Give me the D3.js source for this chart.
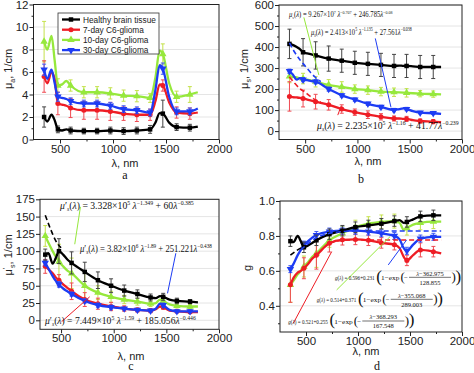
<!DOCTYPE html>
<html>
<head>
<style>
    body { margin: 0; background: #fff; }
    svg { display: block; font-family: "Liberation Sans", Arial, sans-serif; }
    .grid line { stroke: #dedede; stroke-width: 0.8; }
    .eq { font-family: "Liberation Serif", "DejaVu Serif", serif; fill: #111; }
    .tick text { fill: #222; }
</style>
</head>
<body>
<svg width="474" height="373"></svg>
<script src="https://d3js.org/d3.v7.min.js"></script>
<script>
// wavelength grid of the smoothed curves (nm) and where the markers sit
var waves = [350, 380, 420, 450, 480, 520, 560, 600, 725, 850, 975, 1100, 1225, 1350, 1400, 1440, 1470, 1530, 1600, 1725, 1800];
var markWaves = [350, 480, 600, 725, 850, 975, 1100, 1225, 1350, 1470, 1600, 1725];
var seriesNames = ["Healthy brain tissue", "7-day C6-glioma", "10-day C6-glioma", "30-day C6-glioma"];
var colors = ["#000000", "#ee1d25", "#96e83c", "#1d3cf4"];
var errColors = ["#444444", "#ef4a52", "#c4e14a", "#3d58f6"];

// a) absorption coefficient mu_a, 1/cm
var muA = [
    [2.0, 1.6, 2.2, 1.7, 0.9, 0.8, 0.9, 0.8, 0.75, 0.75, 0.8, 0.75, 0.8, 0.9, 1.5, 2.35, 2.3, 1.5, 1.1, 1.05, 1.15],
    [5.6, 5.0, 6.0, 5.3, 3.2, 3.1, 3.0, 2.8, 2.6, 2.6, 2.5, 2.3, 2.2, 2.2, 3.4, 4.9, 4.8, 3.3, 2.4, 2.3, 2.4],
    [8.7, 8.0, 9.2, 7.0, 4.8, 4.9, 5.2, 4.8, 4.2, 4.2, 4.1, 3.9, 3.85, 3.7, 5.5, 7.9, 7.6, 5.0, 3.8, 4.0, 4.2],
    [6.2, 5.4, 6.2, 5.0, 3.8, 3.7, 3.6, 3.4, 3.2, 3.2, 3.0, 2.7, 2.6, 2.4, 4.4, 6.6, 6.3, 3.8, 2.5, 2.5, 2.75]
];
var muAErr = [
    [0.9, 0.3, 0.3, 0.25, 0.25, 0.3, 0.3, 0.3, 0.35, 1.2, 0.3, 0.3],
    [1.4, 1.0, 0.85, 0.8, 0.8, 0.8, 0.6, 0.6, 0.5, 0.5, 0.5, 0.5],
    [1.8, 0.6, 0.5, 0.5, 0.5, 0.5, 0.5, 0.5, 0.4, 0.9, 0.5, 0.7],
    [0.5, 0.4, 0.3, 0.3, 0.3, 0.3, 0.3, 0.3, 0.3, 0.5, 0.3, 0.3]
];

// b) scattering coefficient mu_s, 1/cm
var muS = [
    [415, 410, 400, 390, 375, 370, 365, 360, 345, 335, 325, 320, 315, 310, 312, 310, 310, 308, 305, 305, 305],
    [165, 162, 160, 158, 155, 150, 145, 140, 125, 105, 90, 78, 68, 60, 60, 58, 58, 52, 48, 45, 42],
    [260, 258, 255, 252, 250, 245, 240, 235, 220, 210, 200, 195, 188, 185, 184, 183, 182, 180, 178, 176, 175],
    [285, 270, 245, 252, 245, 242, 238, 235, 200, 170, 150, 130, 115, 100, 105, 108, 105, 95, 88, 85, 82]
];
var muSErr = [
    [70, 65, 65, 60, 55, 55, 55, 55, 55, 55, 55, 55],
    [70, 40, 35, 25, 20, 15, 18, 15, 12, 12, 10, 10],
    [30, 25, 25, 25, 25, 20, 20, 20, 20, 20, 15, 15],
    [10, 10, 10, 10, 8, 8, 8, 8, 8, 8, 6, 6]
];
var fitSWaves = [350, 400, 450, 500, 550, 600, 650];
var fitSRed = [258, 228, 202, 185, 165, 148, 138];
var fitSBlue = [420, 375, 340, 310, 280, 255, 235];

// c) reduced scattering coefficient mu_s', 1/cm
var muSr = [
    [95, 97, 82, 90, 100, 95, 88, 83, 70, 58, 50, 43, 38, 33, 32, 35, 34, 30, 28, 27, 26],
    [78, 74, 68, 62, 58, 52, 47, 42, 30, 24, 20, 17, 15, 14, 16, 20, 19, 14, 13, 12, 12],
    [122, 112, 100, 92, 85, 78, 72, 68, 50, 40, 34, 30, 27, 24, 25, 30, 28, 23, 21, 20, 20],
    [83, 75, 64, 57, 52, 46, 42, 38, 28, 22, 19, 17, 15, 14, 17, 24, 22, 15, 13, 13, 13]
];
var muSrErr = [
    [8, 18, 16, 14, 12, 10, 8, 6, 5, 5, 4, 3],
    [10, 8, 12, 10, 8, 6, 4, 3, 3, 3, 2, 2],
    [15, 25, 22, 20, 10, 8, 6, 5, 4, 5, 3, 3],
    [4, 4, 3, 3, 3, 3, 2, 2, 2, 3, 2, 2]
];
var fitSrWaves = [350, 400, 450, 500];
var fitSrBlack = [152, 132, 115, 105];

// d) anisotropy factor g
var gFac = [
    [0.77, 0.765, 0.80, 0.77, 0.735, 0.745, 0.76, 0.775, 0.81, 0.83, 0.85, 0.86, 0.87, 0.885, 0.89, 0.875, 0.88, 0.895, 0.912, 0.918, 0.918],
    [0.52, 0.56, 0.59, 0.60, 0.615, 0.64, 0.67, 0.69, 0.758, 0.778, 0.78, 0.775, 0.76, 0.75, 0.73, 0.68, 0.66, 0.69, 0.72, 0.71, 0.70],
    [0.52, 0.545, 0.58, 0.60, 0.625, 0.65, 0.68, 0.70, 0.775, 0.815, 0.85, 0.87, 0.88, 0.885, 0.875, 0.835, 0.845, 0.865, 0.875, 0.882, 0.882],
    [0.61, 0.64, 0.69, 0.72, 0.75, 0.77, 0.79, 0.805, 0.825, 0.83, 0.83, 0.825, 0.815, 0.80, 0.78, 0.73, 0.715, 0.75, 0.785, 0.795, 0.795]
];
var gErr = [
    [0.03, 0.03, 0.03, 0.03, 0.03, 0.03, 0.03, 0.03, 0.03, 0.03, 0.03, 0.03],
    [0.10, 0.06, 0.08, 0.05, 0.03, 0.03, 0.03, 0.03, 0.03, 0.03, 0.04, 0.03],
    [0.10, 0.06, 0.08, 0.04, 0.04, 0.04, 0.04, 0.04, 0.04, 0.04, 0.04, 0.04],
    [0.02, 0.02, 0.02, 0.02, 0.02, 0.02, 0.02, 0.02, 0.02, 0.02, 0.02, 0.02]
];
var fitGBlackWaves = [350, 420, 480];
var fitGBlack = [0.69, 0.72, 0.74];
var fitGBlueWaves = [450, 600, 725, 850, 1000, 1800];
var fitGBlue = [0.72, 0.79, 0.815, 0.825, 0.828, 0.828];
var fitGRedWaves = [725, 850, 1000, 1800];
var fitGRed = [0.76, 0.775, 0.777, 0.777];

var svg = d3.select("svg");
var shapes = [d3.symbolSquare, d3.symbolCircle, d3.symbolTriangle, d3.symbolTriangle];
var shapeSize = [20, 20, 24, 24];
var shapeRot = [0, 0, 0, 180];
var drawOrder = [2, 1, 3, 0];

var panels = [
    { name: "a", vals: muA, errs: muAErr, xd: [250, 2000], xr: [33.5, 219], yd: [0, 12], yr: [139.5, 4.5],
      yTicks: [0, 2, 4, 6, 8, 10, 12], yMinor: [1, 3, 5, 7, 9, 11], fmt: d3.format("d"),
      fits: [],
      leaders: [] },
    { name: "b", vals: muS, errs: muSErr, xd: [250, 2000], xr: [279, 462], yd: [-40, 600], yr: [139.5, 5],
      yTicks: [0, 100, 200, 300, 400, 500, 600], yMinor: [50, 150, 250, 350, 450, 550], fmt: d3.format("d"),
      fits: [{ c: 1, w: fitSWaves, v: fitSRed }, { c: 3, w: fitSWaves, v: fitSBlue }],
      leaders: [{ c: 2, x1: 488, y1: 541, x2: 631, y2: 267 },
                { c: 3, x1: 1171, y1: 441, x2: 1321, y2: 113 },
                { c: 1, x1: 844, y1: 119, x2: 812, y2: 76 }] },
    { name: "c", vals: muSr, errs: muSrErr, xd: [300, 2000], xr: [40, 219], yd: [-13, 175], yr: [329.3, 199.3],
      yTicks: [0, 25, 50, 75, 100, 125, 150, 175], yMinor: [], fmt: d3.format("d"),
      fits: [{ c: 0, w: fitSrWaves, v: fitSrBlack }],
      leaders: [{ c: 2, x1: 684, y1: 164, x2: 630, y2: 110 },
                { c: 3, x1: 1590, y1: 97, x2: 1511, y2: 39 },
                { c: 1, x1: 772, y1: 34, x2: 505, y2: -2 }] },
    { name: "d", vals: gFac, errs: gErr, xd: [250, 2000], xr: [280, 462], yd: [0.25, 1.0], yr: [332, 201],
      yTicks: [0.4, 0.6, 0.8, 1.0], yMinor: [0.3, 0.5, 0.7, 0.9], fmt: d3.format(".1f"),
      fits: [{ c: 0, w: fitGBlackWaves, v: fitGBlack }, { c: 3, w: fitGBlueWaves, v: fitGBlue }, { c: 1, w: fitGRedWaves, v: fitGRed }],
      leaders: [{ c: 2, x1: 795, y1: 0.491, x2: 1308, y2: 0.796 },
                { c: 1, x1: 378, y1: 0.30, x2: 747, y2: 0.71 },
                { c: 3, x1: 1291, y1: 0.634, x2: 1467, y2: 0.777 }] }
];

panels.forEach(function (p) {
    var x = d3.scaleLinear().domain(p.xd).range(p.xr),
        y = d3.scaleLinear().domain(p.yd).range(p.yr);
    var g = svg.append("g");

    g.append("g").attr("class", "grid").selectAll("line").data(p.yTicks).join("line")
        .attr("x1", p.xr[0]).attr("x2", p.xr[1])
        .attr("y1", function (d) { return y(d); }).attr("y2", function (d) { return y(d); });

    var line = d3.line().curve(d3.curveMonotoneX)
        .x(function (d) { return x(d[0]); }).y(function (d) { return y(d[1]); });

    drawOrder.forEach(function (s) {
        var pts = waves.map(function (w, i) { return [w, p.vals[s][i]]; });
        var marks = markWaves.map(function (w, i) {
            return { w: w, v: p.vals[s][waves.indexOf(w)], e: p.errs[s][i] };
        });
        var eg = g.append("g").attr("stroke", errColors[s]).attr("stroke-width", 1);
        marks.forEach(function (m) {
            eg.append("line").attr("x1", x(m.w)).attr("x2", x(m.w)).attr("y1", y(m.v - m.e)).attr("y2", y(m.v + m.e));
            eg.append("line").attr("x1", x(m.w) - 2).attr("x2", x(m.w) + 2).attr("y1", y(m.v - m.e)).attr("y2", y(m.v - m.e));
            eg.append("line").attr("x1", x(m.w) - 2).attr("x2", x(m.w) + 2).attr("y1", y(m.v + m.e)).attr("y2", y(m.v + m.e));
        });
        g.append("path").datum(pts).attr("d", line).attr("fill", "none")
            .attr("stroke", colors[s]).attr("stroke-width", 2.3);
        g.append("g").selectAll("path").data(marks).join("path")
            .attr("d", d3.symbol().type(shapes[s]).size(shapeSize[s]))
            .attr("transform", function (m) { return "translate(" + x(m.w) + "," + y(m.v) + ") rotate(" + shapeRot[s] + ")"; })
            .attr("fill", colors[s]);
    });

    p.fits.forEach(function (f) {
        g.append("path").datum(f.w.map(function (w, i) { return [w, f.v[i]]; }))
            .attr("d", line).attr("fill", "none").attr("stroke", colors[f.c])
            .attr("stroke-width", 1.6).attr("stroke-dasharray", "5,3");
    });

    p.leaders.forEach(function (l) {
        g.append("line").attr("x1", x(l.x1)).attr("y1", y(l.y1)).attr("x2", x(l.x2)).attr("y2", y(l.y2))
            .attr("stroke", colors[l.c]).attr("stroke-width", 1);
    });

    // frame and axes
    g.append("rect").attr("x", p.xr[0]).attr("y", p.yr[1])
        .attr("width", p.xr[1] - p.xr[0]).attr("height", p.yr[0] - p.yr[1])
        .attr("fill", "none").attr("stroke", "#222").attr("stroke-width", 1);

    var xAx = g.append("g").attr("transform", "translate(0," + p.yr[0] + ")")
        .call(d3.axisBottom(x).tickValues([500, 1000, 1500, 2000]).tickSize(4).tickSizeOuter(0).tickPadding(1).tickFormat(d3.format("d")));
    g.append("g").attr("transform", "translate(0," + p.yr[0] + ")")
        .call(d3.axisBottom(x).tickValues([750, 1250, 1750]).tickSize(2).tickFormat(""));
    var yAx = g.append("g").attr("transform", "translate(" + p.xr[0] + ",0)")
        .call(d3.axisLeft(y).tickValues(p.yTicks).tickSize(4).tickSizeOuter(0).tickPadding(1).tickFormat(p.fmt));
    g.append("g").attr("transform", "translate(" + p.xr[0] + ",0)")
        .call(d3.axisLeft(y).tickValues(p.yMinor).tickSize(2).tickFormat(""));
    g.selectAll(".domain").remove();
    g.selectAll(".tick line").attr("stroke", "#222");
    xAx.selectAll("text").attr("font-size", 11.5).attr("font-family", "Liberation Sans, Arial, sans-serif");
    yAx.selectAll("text").attr("font-size", 11.5).attr("font-family", "Liberation Sans, Arial, sans-serif");
});

// axis titles and panel letters
var lab = svg.append("g").attr("font-size", 11).attr("fill", "#222");
[[125, 167], [368, 165], [131, 360], [366, 355]].forEach(function (t) {
    lab.append("text").attr("x", t[0]).attr("y", t[1]).attr("text-anchor", "middle").text("λ, nm");
});
var letters = svg.append("g").attr("font-family", "Liberation Serif, serif").attr("font-size", 12).attr("fill", "#111");
[["a", 125, 179], ["b", 361, 183], ["c", 131, 370], ["d", 377, 370]].forEach(function (t) {
    letters.append("text").attr("x", t[1]).attr("y", t[2]).attr("text-anchor", "middle").text(t[0]);
});

function yTitle(cx, cy, main, sub, prime, rest) {
    var t = lab.append("text").attr("transform", "translate(" + cx + "," + cy + ") rotate(-90)").attr("text-anchor", "middle");
    t.append("tspan").text(main);
    if (prime) t.append("tspan").attr("font-size", 7).attr("dy", -4).text(prime);
    t.append("tspan").attr("font-size", 7).attr("dy", prime ? 7 : 3).text(sub);
    t.append("tspan").attr("dy", -3).text(rest);
}
yTitle(12, 69, "μ", "a", "", ", 1/cm");
yTitle(248, 69, "μ", "s", "", ", 1/cm");
yTitle(12, 255, "μ", "s", "'", ", 1/cm");
lab.append("text").attr("transform", "translate(251,268) rotate(-90)").attr("text-anchor", "middle").text("g");

// legend of panel a
var leg = svg.append("g");
leg.append("rect").attr("x", 58).attr("y", 13).attr("width", 101).attr("height", 41)
    .attr("fill", "#fff").attr("stroke", "#333").attr("stroke-width", 0.8);
seriesNames.forEach(function (n, i) {
    var ly = 19.5 + i * 10.2;
    leg.append("line").attr("x1", 62).attr("x2", 80).attr("y1", ly).attr("y2", ly)
        .attr("stroke", colors[i]).attr("stroke-width", 2.3);
    leg.append("path").attr("d", d3.symbol().type(shapes[i]).size(shapeSize[i]))
        .attr("transform", "translate(71," + ly + ") rotate(" + shapeRot[i] + ")").attr("fill", colors[i]);
    leg.append("text").attr("x", 83).attr("y", ly + 3).attr("font-size", 8.3).attr("fill", "#222").text(n);
});

// fitted equations: laid out at natural size, then stretched to the width seen in the figure
function richText(x0, yb, size, width, parts) {
    var t = svg.append("text").attr("class", "eq").attr("x", 0).attr("y", 0).attr("font-size", size);
    parts.forEach(function (pt) {
        var kind = pt[1] || "";
        var off = kind.indexOf("sup") >= 0 ? -0.42 * size : kind.indexOf("sub") >= 0 ? 0.25 * size : 0;
        var s = t.append("tspan").attr("y", off).text(pt[0]);
        if (off !== 0) s.attr("font-size", size * 0.6);
        if (kind.indexOf("i") >= 0) s.attr("font-style", "italic");
    });
    var w = t.node().getBBox().width;
    t.attr("transform", "translate(" + x0 + "," + yb + ") scale(" + (width / w) + ",1)");
}
function muEq(prime, a, e1, b, e2) {
    var head = [["μ", "i"]];
    if (prime) head.push(["′", ""]);
    return head.concat([["s", "subi"], ["(", ""], ["λ", "i"], [") = " + a, ""], [e1[0], "sup"], [" ", ""], ["λ", "i"],
        [e1[1], "sup"], [" + " + b, ""], ["λ", "i"], [e2, "sup"]]);
}
richText(289, 17, 8, 105, muEq(false, "9.267×10", ["7", "−0.707"], "246.785", "−0.08"));
richText(311, 35, 8.5, 102, muEq(false, "2.413×10", ["5", "−1.135"], "27.561", "−0.038"));
richText(317, 129, 9.5, 143, muEq(false, "2.235×10", ["5", "−1.16"], "41.77", "−0.239"));
richText(60, 209, 9.5, 135, muEq(true, "3.328×10", ["5", "−1.349"], "60", "−0.385"));
richText(80, 252, 9.5, 133, muEq(true, "3.82×10", ["6", "−1.89"], "251.221", "−0.438"));
richText(45, 324, 9.5, 152, muEq(true, "7.449×10", ["5", "−1.59"], "185.056", "−0.446"));

function fracEq(x0, yb, coef, num, den) {
    var e = svg.append("g").attr("class", "eq");
    var t = e.append("text").attr("x", 0).attr("y", 0).attr("font-size", 7);
    t.append("tspan").attr("font-style", "italic").text("g");
    t.append("tspan").text("(");
    t.append("tspan").attr("font-style", "italic").text("λ");
    t.append("tspan").text(") = " + coef);
    t.attr("transform", "translate(" + x0 + "," + (yb + 2.5) + ") scale(" + (40 / t.node().getBBox().width) + ",1)");
    e.append("text").attr("x", x0 + 41.3).attr("y", yb + 4.2).attr("font-size", 17).text("(");
    var u = e.append("text").attr("x", 0).attr("y", 0).attr("font-size", 7).text("1−exp");
    u.attr("transform", "translate(" + (x0 + 46) + "," + (yb + 2.5) + ") scale(" + (19 / u.node().getBBox().width) + ",1)");
    e.append("text").attr("x", x0 + 65.5).attr("y", yb + 3.5).attr("font-size", 13).text("(");
    e.append("text").attr("x", x0 + 69).attr("y", yb + 2.5).attr("font-size", 7).text("−");
    e.append("line").attr("x1", x0 + 74).attr("x2", x0 + 116).attr("y1", yb).attr("y2", yb)
        .attr("stroke", "#111").attr("stroke-width", 0.6);
    var n = e.append("text").attr("x", x0 + 95).attr("y", yb - 1.8).attr("font-size", 6.5).attr("text-anchor", "middle");
    n.append("tspan").attr("font-style", "italic").text("λ");
    n.append("tspan").text("−" + num);
    e.append("text").attr("x", x0 + 95).attr("y", yb + 7.2).attr("font-size", 6.5).attr("text-anchor", "middle").text(den);
    e.append("text").attr("x", x0 + 116.5).attr("y", yb + 3.5).attr("font-size", 13).text(")");
    e.append("text").attr("x", x0 + 120.5).attr("y", yb + 4.2).attr("font-size", 17).text(")");
}
fracEq(335, 277.3, "0.596+0.231", "362.975", "128.855");
fracEq(316.7, 299.3, "0.514+0.371", "355.068", "289.003");
fracEq(288.3, 321, "0.521+0.255", "368.293", "167.548");
</script>
</body>
</html>
